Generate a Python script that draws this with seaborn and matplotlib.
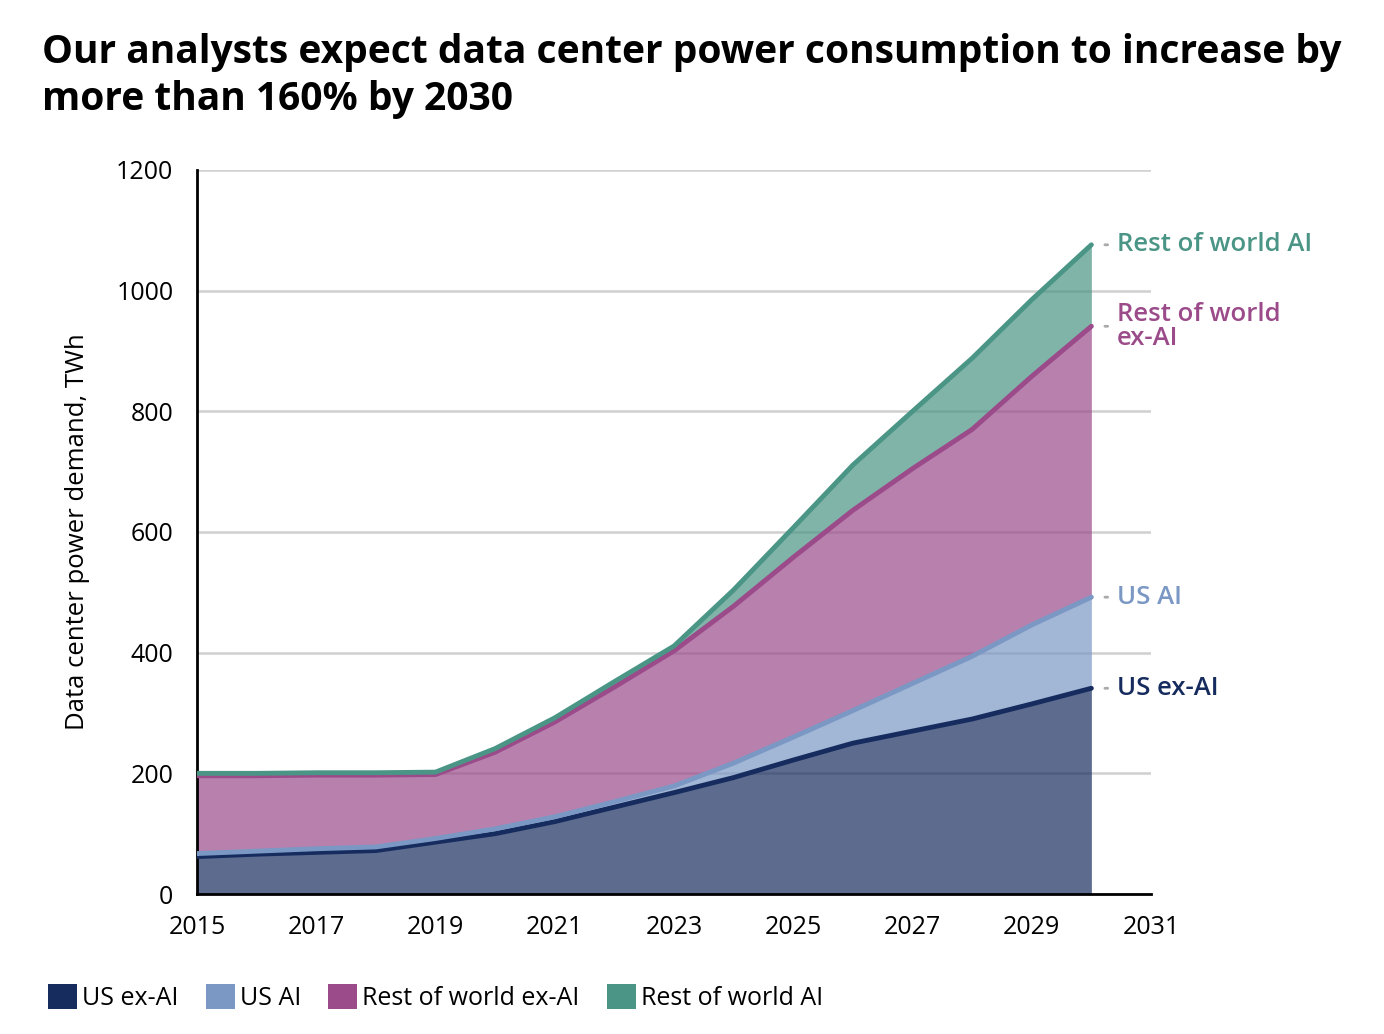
import numpy as np
import pandas as pd
import matplotlib
matplotlib.use("Agg")
import matplotlib.pyplot as plt
from matplotlib.patches import Patch
import seaborn as sns

years = list(range(2015, 2031))
us_exai_top = [62, 66, 69, 72, 86, 100, 120, 144, 168, 193, 222, 250, 270, 290, 315, 341]
us_ai_top = [67, 71, 75, 78, 92, 108, 128, 153, 179, 217, 260, 304, 349, 394, 446, 492]
row_exai_top = [196, 196, 197, 197, 198, 235, 285, 343, 403, 477, 558, 636, 705, 770, 858, 941]
row_ai_top = [200, 200, 201, 201, 202, 241, 292, 352, 411, 504, 607, 711, 800, 888, 985, 1076]

series = ["US ex-AI", "US AI", "Rest of world ex-AI", "Rest of world AI"]
end_labels = ["US ex-AI", "US AI", "Rest of world\nex-AI", "Rest of world AI"]
colors = ["#172C5E", "#7B98C4", "#9B4A8A", "#4A9585"]
title_lines = ["Our analysts expect data center power consumption to increase by",
               "more than 160% by 2030"]

tops = [us_exai_top, us_ai_top, row_exai_top, row_ai_top]
df = pd.DataFrame({"year": years * 4,
                   "value": sum(tops, []),
                   "series": sum([[s] * len(years) for s in series], [])})

sns.set_theme(style="white")
plt.rcParams["font.family"] = ["Open Sans", "DejaVu Sans"]
plt.rcParams["text.color"] = "black"
plt.rcParams["axes.labelcolor"] = "black"
plt.rcParams["xtick.color"] = "black"
plt.rcParams["ytick.color"] = "black"

fig = plt.figure(figsize=(13.84, 10.34), dpi=100)
ax = fig.add_axes([197 / 1384, 1 - 894 / 1034, (1151 - 197) / 1384, (894 - 170) / 1034])

# stacked fills from the cumulative tops
bases = [np.zeros(len(years))] + [np.array(t) for t in tops[:-1]]
for base, top, c in zip(bases, tops, colors):
    ax.fill_between(years, base, top, color=c, alpha=0.7, lw=0, zorder=2)

sns.lineplot(data=df, x="year", y="value", hue="series", palette=colors,
             hue_order=series, linewidth=3.5, ax=ax, legend=False, zorder=3)

ax.set_xlim(2015, 2031)
ax.set_ylim(0, 1200)
ax.set_xticks(range(2015, 2032))
ax.set_xticklabels([str(y) if (y - 2015) % 2 == 0 else "" for y in range(2015, 2032)])
ax.set_yticks(range(0, 1201, 200))
ax.yaxis.grid(True, color="#d0d0d0", lw=1.8, zorder=0)
ax.set_axisbelow(True)
for s in ["top", "right"]:
    ax.spines[s].set_visible(False)
for s in ["left", "bottom"]:
    ax.spines[s].set_color("black")
    ax.spines[s].set_linewidth(2)
ax.tick_params(axis="both", direction="out", length=11, width=1.8, color="black",
               labelsize=18, pad=6)
ax.tick_params(axis="x", pad=4)
ax.set_xlabel("")
ax.set_ylabel("Data center power demand, TWh", fontsize=18.5, labelpad=19)

# end labels
label_y = [341, 492, 941, 1076]
for lab, yv, c in zip(end_labels, label_y, colors):
    ax.annotate("", xy=(2030.18, yv), xytext=(2030.32, yv),
                arrowprops=dict(arrowstyle="-", color="#aaaaaa", lw=2),
                annotation_clip=False)
    if "\n" in lab:
        ax.text(2030.43, yv + 40, lab, color=c, fontsize=18.5, fontweight="semibold",
                va="top", ha="left", linespacing=0.95, clip_on=False)
    else:
        ax.text(2030.43, yv, lab, color=c, fontsize=18.5, fontweight="semibold",
                va="center", ha="left", clip_on=False)

for i, line in enumerate(title_lines):
    fig.text(42 / 1384, 1 - (52 + 48 * i) / 1034, line,
             fontsize=28.1, fontweight="bold", va="center", ha="left")

handles = [Patch(facecolor=c, edgecolor="none") for c in colors]
fig.legend(handles, series, loc="lower left", bbox_to_anchor=(38 / 1384, 13 / 1034),
           ncol=4, frameon=False, fontsize=18, handlelength=1.15, handleheight=1.15,
           handletextpad=0.2, columnspacing=1.1, borderaxespad=0)

fig.savefig("out.png", dpi=100)
